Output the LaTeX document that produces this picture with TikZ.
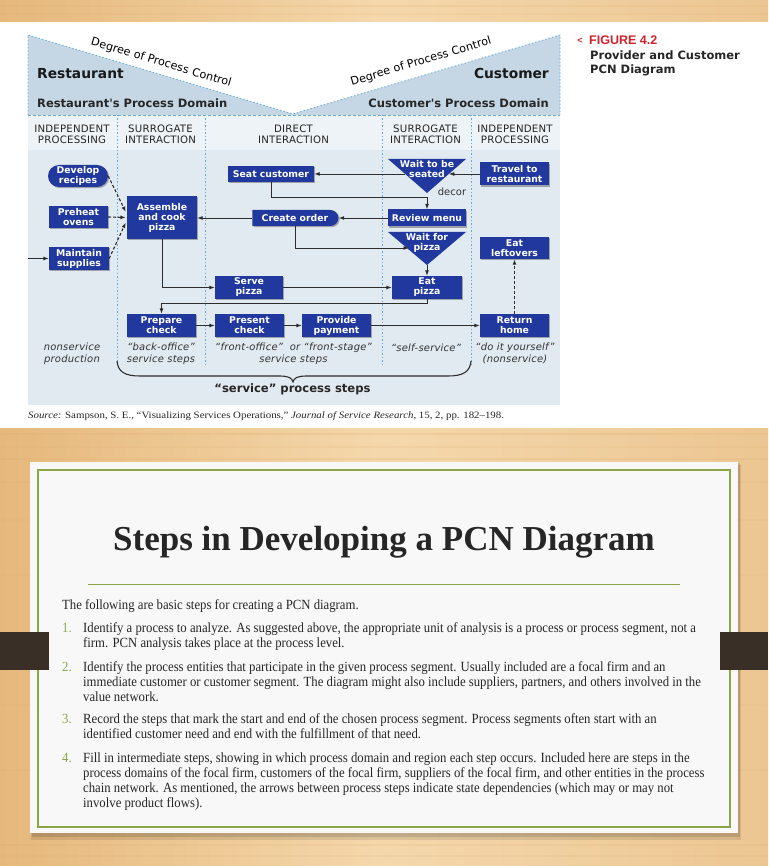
\documentclass[tikz,border=0pt]{standalone}
\usepackage{fontspec}
\usetikzlibrary{arrows.meta,shapes.misc,shadows,calc}
\newfontfamily\dvs{DejaVu Sans}
\newfontfamily\dvsw[LetterSpace=2]{DejaVu Sans}
\newfontfamily\tmsn[FakeStretch=0.91]{Liberation Serif}
\newfontfamily\tmsw[FakeStretch=1.12]{Liberation Serif}
\newfontfamily\tms{Liberation Serif}
\newfontfamily\las{Liberation Sans}
\definecolor{nblue}{RGB}{33,57,158}
\definecolor{domfill}{RGB}{197,215,228}
\definecolor{hdrfill}{RGB}{238,243,247}
\definecolor{bodyfill}{RGB}{226,234,241}
\definecolor{dotblue}{RGB}{100,170,215}
\definecolor{arr}{RGB}{45,45,45}
\definecolor{figred}{RGB}{210,35,45}
\definecolor{woodA}{RGB}{230,184,124}
\definecolor{woodB}{RGB}{244,216,172}
\definecolor{woodC}{RGB}{236,198,146}
\definecolor{olive}{RGB}{140,165,75}
\definecolor{tabc}{RGB}{58,47,38}
\definecolor{cardc}{RGB}{248,248,248}
\begin{document}
\begin{tikzpicture}[x=1pt,y=-1pt,
  box/.style={fill=nblue, text=white, font={\dvs\bfseries\fontsize{9.3}{10}\selectfont}, align=center, inner sep=0pt,
    drop shadow={shadow xshift=1.2pt,shadow yshift=-1.2pt,opacity=0.3,fill=black}},
  tritext/.style={text=white, font={\dvs\bfseries\fontsize{9.3}{10}\selectfont}, align=center, inner sep=0pt},
  ar/.style={draw=arr, line width=0.9pt, -{Latex[length=5.5pt,width=4pt]}},
  dar/.style={ar, dash pattern=on 3pt off 2pt, line width=1.1pt},
  divl/.style={draw=dotblue, line width=0.8pt, dash pattern=on 1.5pt off 2pt},
  hdr/.style={font={\dvsw\fontsize{10.2}{11}\selectfont}, align=center, text=black!85, inner sep=0pt},
  lab/.style={font={\dvsw\itshape\fontsize{10}{11.5}\selectfont}, align=center, text=black!80, inner sep=0pt},
  dpcl/.style={font={\dvs\fontsize{11.2}{12}\selectfont}, anchor=base west, inner sep=0pt, rotate=-16.6},
  dpcr/.style={font={\dvs\fontsize{11.2}{12}\selectfont}, anchor=base west, inner sep=0pt, rotate=16.6},
  bodyt/.style={anchor=base west, inner sep=0pt, font={\tmsn\fontsize{14}{15}\selectfont}, text=black!85},
  numt/.style={anchor=base west, inner sep=0pt, font={\tmsn\fontsize{14}{15}\selectfont}, text=olive}
]
\useasboundingbox (0,0) rectangle (768,866);
% ---------- backgrounds ----------
\shade[left color=woodA, right color=woodC, middle color=woodB] (0,0) rectangle (768,22);
\fill[white] (0,22) rectangle (768,428);
\shade[left color=woodA, right color=woodC, middle color=woodB] (0,428) rectangle (768,866);
\foreach \yy/\op in {434/0.25,447/0.15,459/0.2,482/0.12,520/0.15,575/0.1,640/0.12,705/0.1,770/0.12,845/0.2,856/0.15,6/0.2,14/0.15}{
  \draw[woodA!80!brown, opacity=\op, line width=1.2pt] (0,\yy) -- (768,\yy);
}
% ---------- diagram panel ----------
\fill[domfill] (28,35) -- (293,114) -- (560,35) -- (560,115) -- (28,115) -- cycle;
\fill[hdrfill] (28,115) rectangle (560,150);
\fill[bodyfill] (28,150) rectangle (560,405);
\draw[divl] (28,115) -- (28,35) -- (293,114) -- (560,35) -- (560,115);
\draw[divl, dash pattern=on 3pt off 2pt] (28,115) -- (560,115);
\foreach \xx in {117,205,382,471}{\draw[divl] (\xx,115) -- (\xx,364);}
% domain texts
\node[dpcl] (dl1) at (90.2,44.9) {Degree};
\node[dpcl] (dl2) at (132.9,57.6) {of};
\node[dpcl] (dl3) at (146.7,61.7) {Process};
\node[dpcl] (dl4) at (191.2,75.0) {Control};
\node[dpcr] (dr1) at (351.8,85.7) {Degree};
\node[dpcr] (dr2) at (394.5,72.9) {of};
\node[dpcr] (dr3) at (408.3,68.8) {Process};
\node[dpcr] (dr4) at (452.8,55.5) {Control};
\node[font={\dvs\bfseries\fontsize{13.8}{14}\selectfont}, anchor=base west, inner sep=0pt, text=black!90] (rest) at (37,79) {Restaurant};
\node[font={\dvs\bfseries\fontsize{13.8}{14}\selectfont}, anchor=base east, inner sep=0pt, text=black!90] (cust) at (549,79) {Customer};
\node[font={\dvs\bfseries\fontsize{11.5}{12}\selectfont}, anchor=base west, inner sep=0pt, text=black!85] (rpd) at (37,107.5) {Restaurant's Process Domain};
\node[font={\dvs\bfseries\fontsize{11.5}{12}\selectfont}, anchor=base east, inner sep=0pt, text=black!85] (cpd) at (549,107.5) {Customer's Process Domain};
% column headers
\node[hdr] (h1) at (72,134.5) {INDEPENDENT\\PROCESSING};
\node[hdr] (h2) at (160.5,134.5) {SURROGATE\\INTERACTION};
\node[hdr] (h3) at (293.5,134.5) {DIRECT\\INTERACTION};
\node[hdr] (h4) at (425.5,134.5) {SURROGATE\\INTERACTION};
\node[hdr] (h5) at (515,134.5) {INDEPENDENT\\PROCESSING};
% ---------- nodes ----------
\node[box, rounded rectangle, minimum width=60pt, minimum height=22pt] (recipes) at (78,176) {Develop\\recipes};
\node[box, minimum width=59pt, minimum height=22pt] (preheat) at (78.5,217) {Preheat\\ovens};
\node[box, minimum width=60pt, minimum height=23pt] (maintain) at (79,258.5) {Maintain\\supplies};
\node[box, minimum width=70pt, minimum height=43pt] (assemble) at (162,217.5) {Assemble\\and cook\\pizza};
\node[box, minimum width=86pt, minimum height=16pt] (seat) at (271,174) {Seat customer};
\node[box, rounded rectangle, rounded rectangle west arc=none, minimum width=86pt, minimum height=16pt] (create) at (295,218) {Create order};
\node[box, minimum width=69pt, minimum height=23pt] (travel) at (514.5,174) {Travel to\\restaurant};
\node[box, minimum width=78pt, minimum height=17pt] (review) at (427,218) {Review menu};
\node[box, minimum width=69pt, minimum height=22pt] (leftovers) at (514.5,248) {Eat\\leftovers};
\node[box, minimum width=68pt, minimum height=23pt] (serve) at (249,287.5) {Serve\\pizza};
\node[box, minimum width=70pt, minimum height=23pt] (eatpizza) at (427,287.5) {Eat\\pizza};
\node[box, minimum width=69pt, minimum height=23pt] (prepare) at (161.5,325.5) {Prepare\\check};
\node[box, minimum width=69pt, minimum height=23pt] (present) at (249.5,325.5) {Present\\check};
\node[box, minimum width=69pt, minimum height=23pt] (provide) at (336.5,325.5) {Provide\\payment};
\node[box, minimum width=69pt, minimum height=23pt] (returnhome) at (514.5,325.5) {Return\\home};
% triangles
\fill[nblue] (388,159) coordinate (wsl) -- (466,159) coordinate (wsr) -- (427,193) coordinate (wsapex) -- cycle;
\node[tritext] (waitseat) at (427,169.3) {Wait to be\\seated};
\fill[nblue] (388,232) coordinate (wpl) -- (466,232) coordinate (wpr) -- (427,265) coordinate (wpapex) -- cycle;
\node[tritext] (waitpizza) at (427,242.7) {Wait for\\pizza};
\coordinate (wsrin) at ($(wsr)!0.44!(wsapex)$);
\coordinate (wslout) at ($(wsl)!0.44!(wsapex)$);
\coordinate (wpin) at (409,248);
\node[font={\dvs\fontsize{10}{11}\selectfont}, text=black!80, inner sep=0pt] (decor) at (452,191.7) {decor};
% ---------- connectors ----------
\coordinate (inflow) at (28,258.5);
\draw[ar] (inflow) -- (maintain.west);
\draw[dar] (recipes.east) -- ($(assemble.west)+(-1,-5.5)$);
\draw[dar] (preheat.east) -- ($(assemble.west)+(-1,0)$);
\draw[dar] (maintain.east) -- ($(assemble.west)+(-1,5)$);
\draw[ar] (travel.west |- wsrin) -- (wsrin);
\draw[ar] (wslout) -- (seat.east |- wslout);
\draw[ar] (seat.south) |- ($(review.north)+(0,-12)$) -- (review.north);
\draw[ar] (review.west) -- (create.east);
\draw[ar] (create.west) -- (assemble.east |- create.west);
\draw[ar] (create.south) |- (wpin);
\draw[ar] (wpapex) -- (eatpizza.north);
\draw[ar] (assemble.south) |- (serve.west);
\draw[ar] (serve.east) -- (eatpizza.west);
\draw[ar] (eatpizza.south) |- ($(prepare.north)+(0,-10)$) -- (prepare.north);
\draw[ar] (prepare.east) -- (present.west);
\draw[ar] (present.east) -- (provide.west);
\draw[ar] (provide.east) -- (returnhome.west);
\draw[dar] (returnhome.north) -- (leftovers.south);
% ---------- bottom labels ----------
\node[lab] (l1) at (72,353.5) {nonservice\\production};
\node[lab] (l2) at (161,353.5) {“back-office”\\service steps};
\node[lab] (l3) at (293.5,353.5) {“front-office”\ \ or “front-stage”\\service steps};
\node[lab] (l4) at (426,348) {“self-service”};
\node[lab] (l5) at (515,353.5) {“do it yourself”\\(nonservice)};
\draw[arr, line width=1.1pt] (117,361) .. controls (118,372) and (125,376) .. (140,376) -- (279,376) .. controls (289,376) and (292,378) .. (293,382) .. controls (294,378) and (297,376) .. (307,376) -- (448,376) .. controls (463,376) and (470,372) .. (471,361);
\node[font={\dvs\bfseries\fontsize{11.6}{12}\selectfont}, text=black!85, inner sep=0pt] (sps) at (292.5,389) {“service” process steps};
\node[font={\tmsw\fontsize{9.7}{10}\selectfont}, anchor=base west, inner sep=0pt, text=black!85] (src) at (28,418.5) {{\itshape Source:} Sampson, S. E., “Visualizing Services Operations,” {\itshape Journal of Service Research}, 15, 2, pp. 182–198.};
% caption
\node[font={\las\bfseries\fontsize{9}{10}\selectfont}, text=figred, inner sep=0pt] (lt) at (580,40.5) {<};
\node[font={\las\bfseries\fontsize{12.5}{13}\selectfont}, text=figred, anchor=west, inner sep=0pt] (fig) at (589,40.5) {FIGURE 4.2};
\node[font={\dvs\bfseries\fontsize{11.5}{13.5}\selectfont}, text=black!85, anchor=north west, align=left, inner sep=0pt] (cap) at (590,51) {Provider and Customer\\PCN Diagram};
% ---------- slide card ----------
\fill[black, opacity=0.10] (31,465) rectangle (741,840);
\fill[black, opacity=0.12] (32,463) rectangle (740,837);
\fill[cardc] (30,462) rectangle (738,833);
\draw[olive, line width=1.4pt] (38,470) rectangle (730,827);
\node[font={\tms\bfseries\fontsize{35}{40}\selectfont}, text=black!85, anchor=base, inner sep=0pt] (title) at (384,550) {Steps in Developing a PCN Diagram};
\draw[olive, line width=1pt] (88,584) -- (680,584);
\node[bodyt] (intro) at (62,609) {The following are basic steps for creating a PCN diagram.};
\node[numt] (n1) at (62,632) {1.};
\node[bodyt] (a1) at (83,632) {Identify a process to analyze. As suggested above, the appropriate unit of analysis is a process or process segment, not a};
\node[bodyt] (a2) at (83,647) {firm. PCN analysis takes place at the process level.};
\node[numt] (n2) at (62,671) {2.};
\node[bodyt] (b1) at (83,671) {Identify the process entities that participate in the given process segment. Usually included are a focal firm and an};
\node[bodyt] (b2) at (83,686) {immediate customer or customer segment. The diagram might also include suppliers, partners, and others involved in the};
\node[bodyt] (b3) at (83,701) {value network.};
\node[numt] (n3) at (62,723) {3.};
\node[bodyt] (c1) at (83,723) {Record the steps that mark the start and end of the chosen process segment. Process segments often start with an};
\node[bodyt] (c2) at (83,738) {identified customer need and end with the fulfillment of that need.};
\node[numt] (n4) at (62,762) {4.};
\node[bodyt] (d1) at (83,762) {Fill in intermediate steps, showing in which process domain and region each step occurs. Included here are steps in the};
\node[bodyt] (d2) at (83,777) {process domains of the focal firm, customers of the focal firm, suppliers of the focal firm, and other entities in the process};
\node[bodyt] (d3) at (83,792) {chain network. As mentioned, the arrows between process steps indicate state dependencies (which may or may not};
\node[bodyt] (d4) at (83,807) {involve product flows).};
% side tabs
\fill[tabc] (0,632) rectangle (49,670);
\fill[tabc] (720,632) rectangle (768,670);
\end{tikzpicture}
\end{document}
